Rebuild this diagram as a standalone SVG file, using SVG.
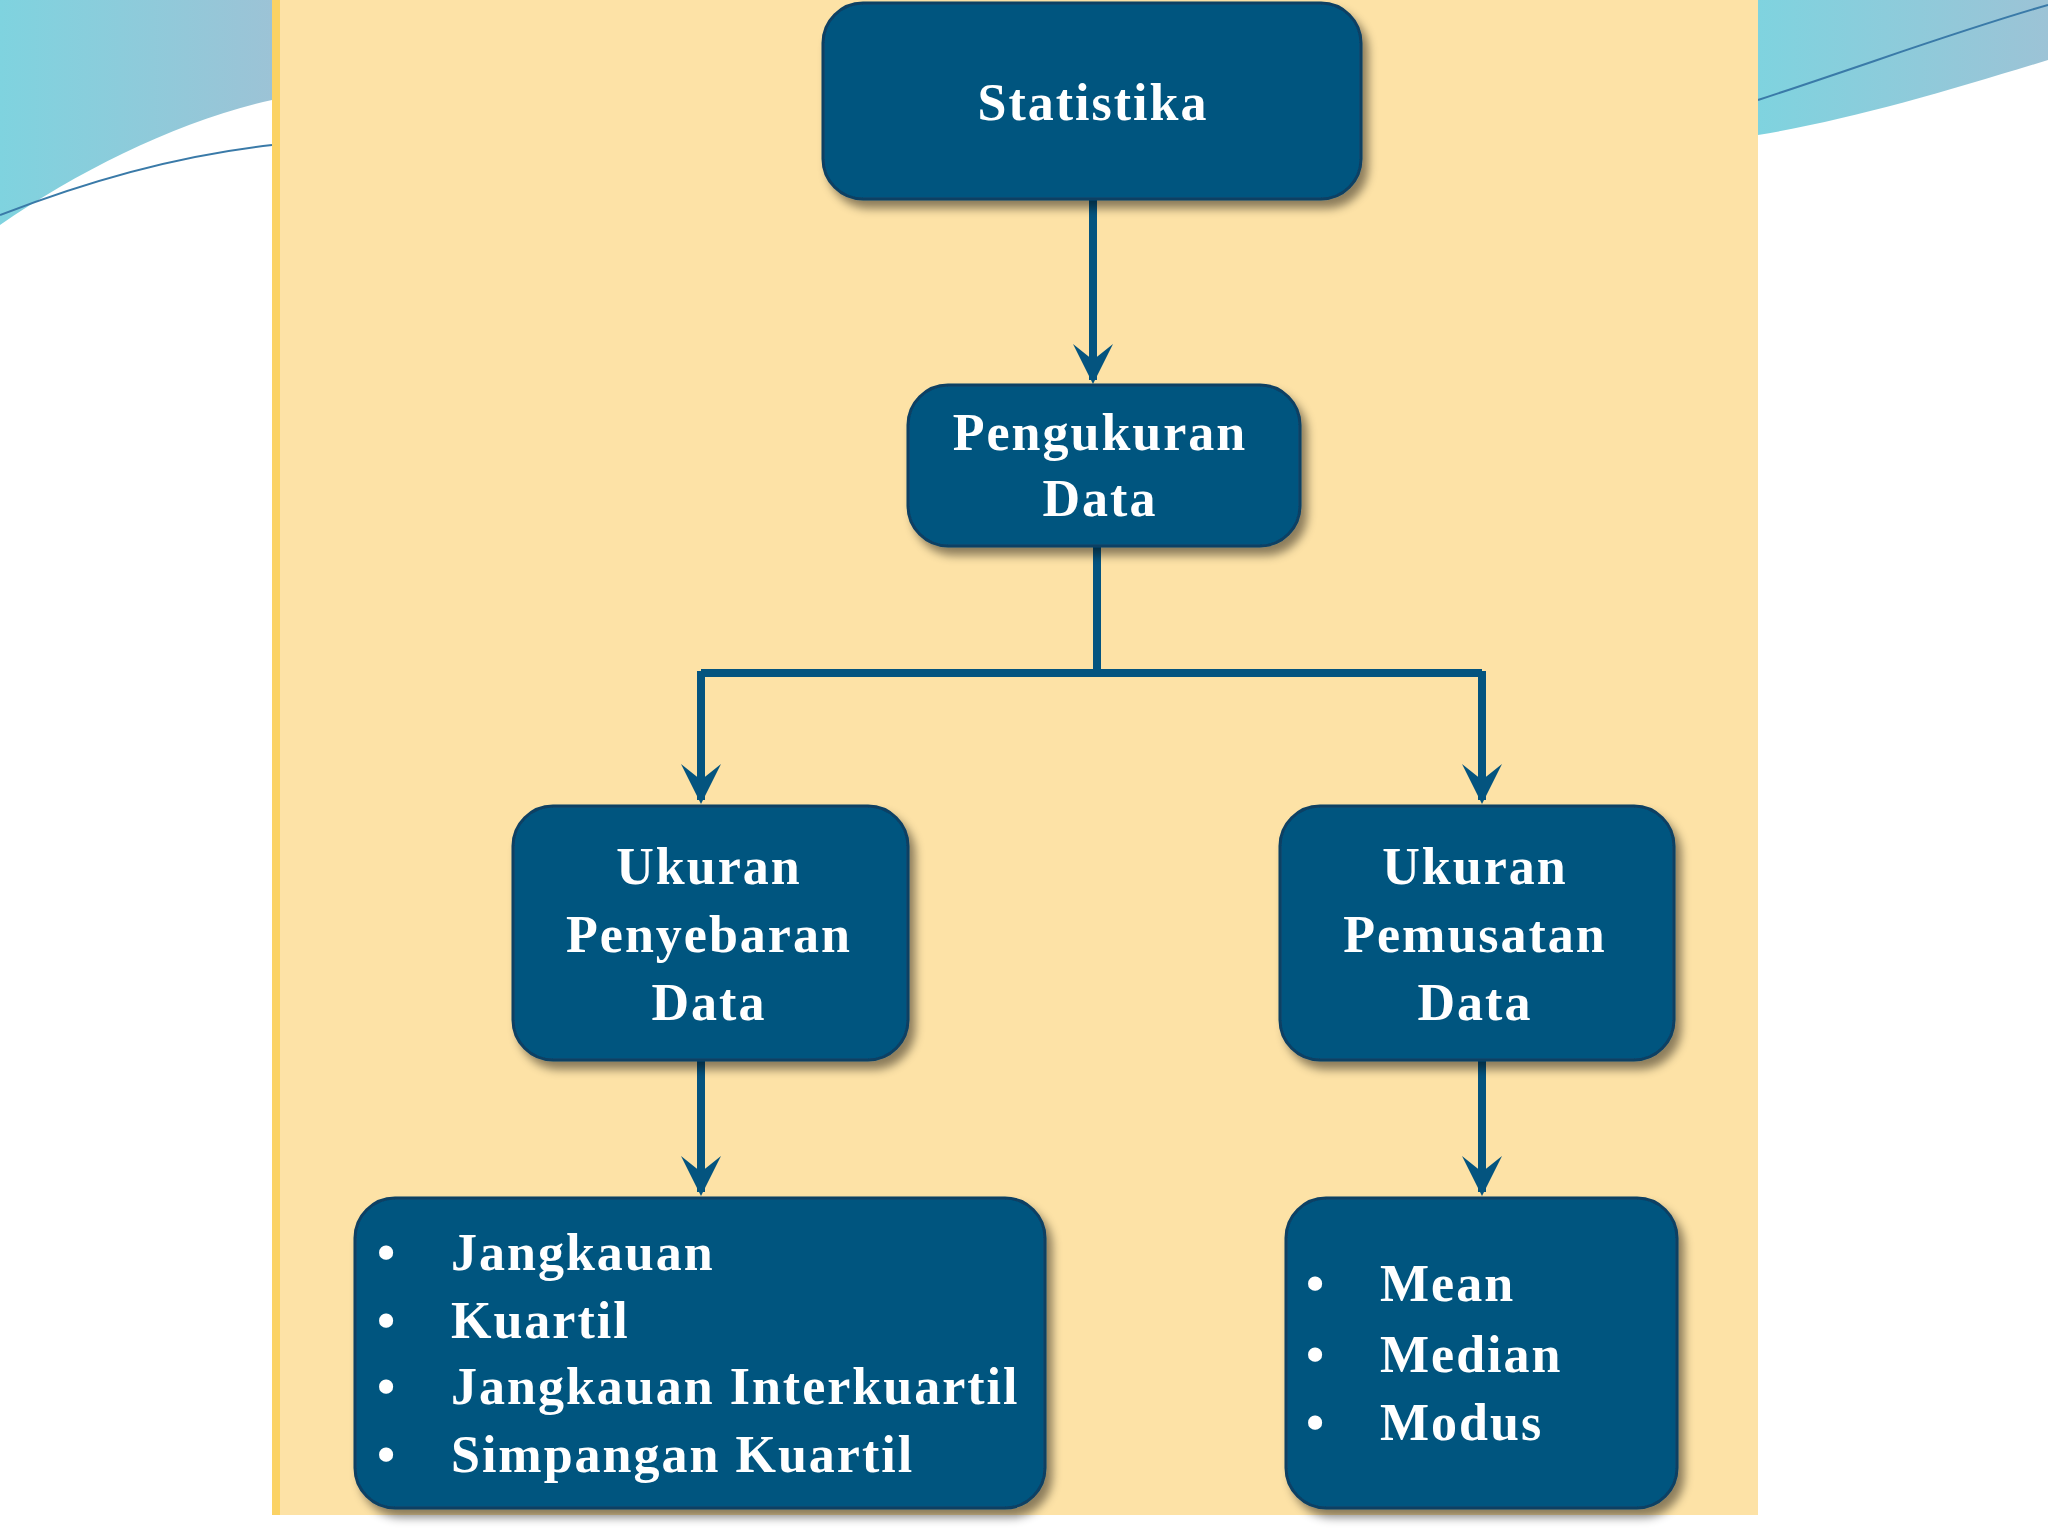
<svg xmlns="http://www.w3.org/2000/svg" width="2048" height="1536" viewBox="0 0 2048 1536">
<defs>
<style>
.box{fill:#04547f;stroke:#0a3f63;stroke-width:3}
.t{font-family:"Liberation Serif",serif;font-size:52px;font-weight:bold;letter-spacing:2px;fill:#ffffff;text-anchor:middle}
.l{font-family:"Liberation Serif",serif;font-size:52px;font-weight:bold;letter-spacing:2px;fill:#ffffff}
.c{stroke:#04547f;stroke-width:8;fill:none}
</style>
<linearGradient id="sw" x1="0" y1="0" x2="1" y2="0"><stop offset="0" stop-color="#7fd3df"/><stop offset="1" stop-color="#9cc3d6"/></linearGradient>
<filter id="sh" x="-10%" y="-10%" width="130%" height="130%"><feDropShadow dx="6" dy="8" stdDeviation="5" flood-color="#000" flood-opacity="0.45"/></filter>
<marker id="ah" viewBox="0 0 10 10" refX="9" refY="5" markerWidth="5" markerHeight="5" orient="auto"><path d="M0,0 L10,5 L0,10 L4,5 Z" fill="#04547f"/></marker>
</defs>
<rect width="2048" height="1536" fill="#ffffff"/>
<path d="M0,0 L272,0 L272,100 C180,120 80,170 0,225 Z" fill="url(#sw)"/>
<path d="M0,215 C90,180 180,155 272,145" stroke="#3a7aa8" stroke-width="2" fill="none"/>
<path d="M1758,0 L2048,0 L2048,60 C1950,90 1850,120 1758,135 Z" fill="url(#sw)"/>
<path d="M1758,100 C1880,60 1960,30 2048,5" stroke="#3a7aa8" stroke-width="2" fill="none"/>
<rect x="272" y="0" width="1486" height="1515" fill="#fde2a6"/>
<rect x="272" y="0" width="8" height="1515" fill="#fbd264"/>
<g id="connectors">
<path class="c" d="M1093,199 V380" marker-end="url(#ah)"/>
<path class="c" d="M1097,546 V673 M701,673 H1482"/>
<path class="c" d="M701,671 V800" marker-end="url(#ah)"/>
<path class="c" d="M1482,671 V800" marker-end="url(#ah)"/>
<path class="c" d="M701,1060 V1192" marker-end="url(#ah)"/>
<path class="c" d="M1482,1060 V1192" marker-end="url(#ah)"/>
</g>
<g id="statistika"><rect class="box" filter="url(#sh)" x="823" y="3" width="538" height="196" rx="40"/><text class="t" x="1093" y="120">Statistika</text></g>
<g id="pengukuran"><rect class="box" filter="url(#sh)" x="908" y="385" width="392" height="161" rx="40"/><text class="t" x="1100" y="450">Pengukuran</text><text class="t" x="1100" y="516">Data</text></g>
<g id="penyebaran"><rect class="box" filter="url(#sh)" x="513" y="806" width="395" height="254" rx="40"/><text class="t" x="709" y="884">Ukuran</text><text class="t" x="709" y="952">Penyebaran</text><text class="t" x="709" y="1020">Data</text></g>
<g id="pemusatan"><rect class="box" filter="url(#sh)" x="1280" y="806" width="394" height="254" rx="40"/><text class="t" x="1475" y="884">Ukuran</text><text class="t" x="1475" y="952">Pemusatan</text><text class="t" x="1475" y="1020">Data</text></g>
<g id="list-penyebaran"><rect class="box" filter="url(#sh)" x="355" y="1198" width="690" height="310" rx="40"/>
<text class="l" x="377" y="1270">•</text><text class="l" x="451" y="1270">Jangkauan</text>
<text class="l" x="377" y="1338">•</text><text class="l" x="451" y="1338">Kuartil</text>
<text class="l" x="377" y="1404">•</text><text class="l" x="451" y="1404">Jangkauan Interkuartil</text>
<text class="l" x="377" y="1472">•</text><text class="l" x="451" y="1472">Simpangan Kuartil</text></g>
<g id="list-pemusatan"><rect class="box" filter="url(#sh)" x="1286" y="1198" width="391" height="310" rx="40"/>
<text class="l" x="1306" y="1301">•</text><text class="l" x="1380" y="1301">Mean</text>
<text class="l" x="1306" y="1372">•</text><text class="l" x="1380" y="1372">Median</text>
<text class="l" x="1306" y="1440">•</text><text class="l" x="1380" y="1440">Modus</text></g>
</svg>
